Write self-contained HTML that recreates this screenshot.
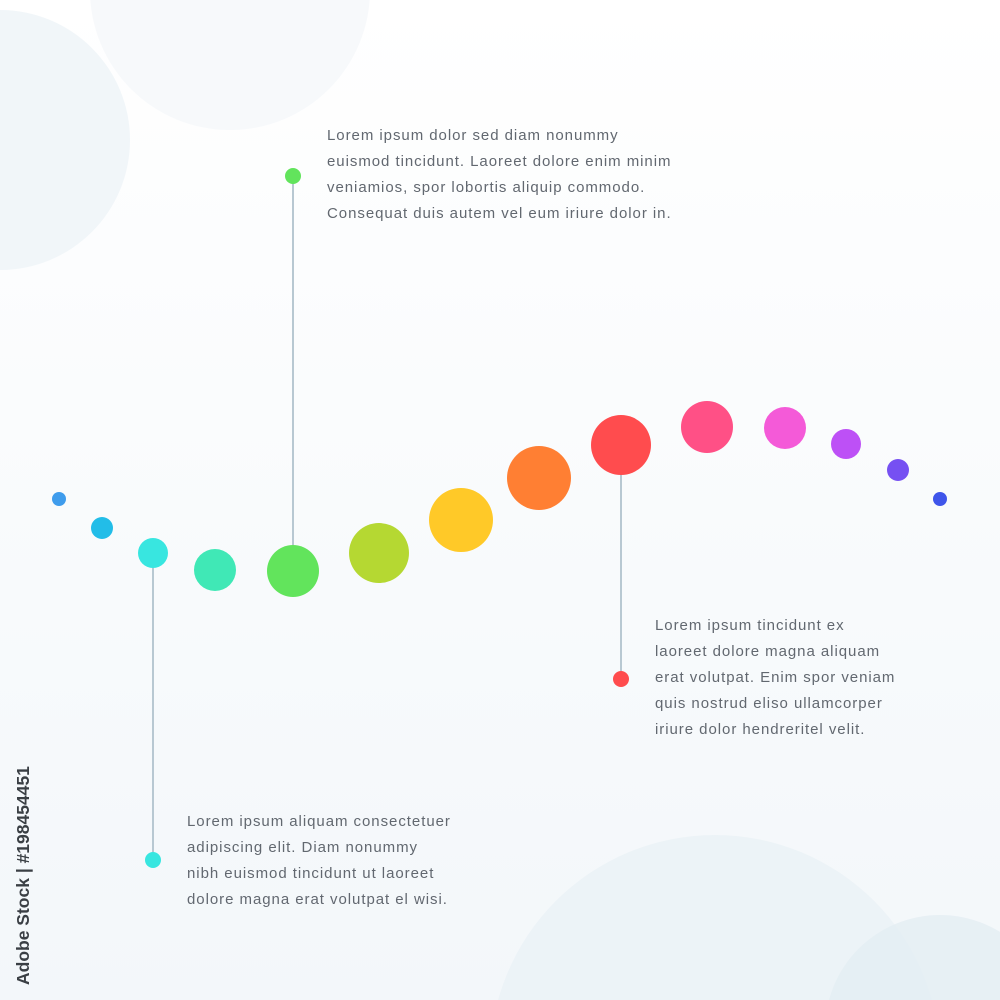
<!DOCTYPE html>
<html><head><meta charset="utf-8">
<style>
html,body{margin:0;padding:0;width:1000px;height:1000px;overflow:hidden;background:#fff}
svg{display:block;overflow:hidden}
.t{font-family:"Liberation Sans",sans-serif;font-size:15px;fill:#626870;letter-spacing:0.95px}
</style></head>
<body>
<svg id="chart" width="1000" height="1000" viewBox="0 0 1000 1000">
<defs>
<linearGradient id="bg" x1="0" y1="0" x2="0" y2="1">
<stop offset="0" stop-color="#ffffff"/><stop offset="1" stop-color="#f3f7fa"/>
</linearGradient>
<clipPath id="frame"><rect width="1000" height="1000"/></clipPath>
</defs>
<g clip-path="url(#frame)">
<rect width="1000" height="1000" fill="url(#bg)"/>
<circle cx="0" cy="140" r="130" fill="#eef4f8" opacity="0.8"/>
<circle cx="230" cy="-10" r="140" fill="#f3f7fa" opacity="0.7"/>
<circle cx="715" cy="1060" r="225" fill="#ebf2f6" opacity="0.9"/>
<circle cx="940" cy="1030" r="115" fill="#e4eef3" opacity="0.8"/>
</g>
<g id="leaders"></g>
<g id="dots"></g>
<g>
<text class="t" x="327" y="140">Lorem ipsum dolor sed diam nonummy</text>
<text class="t" x="327" y="166">euismod tincidunt. Laoreet dolore enim minim</text>
<text class="t" x="327" y="192">veniamios, spor lobortis aliquip commodo.</text>
<text class="t" x="327" y="218">Consequat duis autem vel eum iriure dolor in.</text>
</g>
<g>
<text class="t" x="655" y="630">Lorem ipsum tincidunt ex</text>
<text class="t" x="655" y="656">laoreet dolore magna aliquam</text>
<text class="t" x="655" y="682">erat volutpat. Enim spor veniam</text>
<text class="t" x="655" y="708">quis nostrud eliso ullamcorper</text>
<text class="t" x="655" y="734">iriure dolor hendreritel velit.</text>
</g>
<g>
<text class="t" x="187" y="826">Lorem ipsum aliquam consectetuer</text>
<text class="t" x="187" y="852">adipiscing elit. Diam nonummy</text>
<text class="t" x="187" y="878">nibh euismod tincidunt ut laoreet</text>
<text class="t" x="187" y="904">dolore magna erat volutpat el wisi.</text>
</g>
<text x="0" y="0" transform="translate(29,985) rotate(-90)" font-family="Liberation Sans,sans-serif" font-size="17.5" font-weight="bold" fill="#3a3f44">Adobe Stock | #198454451</text>
</svg>
<script>
const positions = [5.9,10.2,15.3,21.5,29.3,37.9,46.1,53.9,62.1,70.7,78.5,84.6,89.8,94.0];
const heights = [50.1,47.2,44.7,43.0,42.9,44.7,48.0,52.2,55.5,57.3,57.2,55.6,53.0,50.1];
const sizes = [7,11,15,21,26,30,32,32,30,26,21,15,11,7];
const colors = ["#3f9cec","#22bde8","#38e6e0","#40e8b6","#62e45c","#b5d832","#ffc928","#ff7f33","#ff4c4e","#ff5086","#f45ad8","#bd50f6","#7650f2","#3f55ea"];
const leaderIdx = [4,2,8];
const leaderEnd = [82.4,14.0,32.1];
const sx = v => v*10;
const sy = v => 1000 - v*10;
const NS="http://www.w3.org/2000/svg";
const dg=document.getElementById('dots'), lg=document.getElementById('leaders');
leaderIdx.forEach((idx,k)=>{
  const x=sx(positions[idx]);
  const l=document.createElementNS(NS,'line');
  l.setAttribute('x1',x);l.setAttribute('x2',x);
  l.setAttribute('y1',sy(heights[idx]));l.setAttribute('y2',sy(leaderEnd[k]));
  l.setAttribute('stroke','#b8c8d2');l.setAttribute('stroke-width','2');
  
  
  lg.appendChild(l);
  const c=document.createElementNS(NS,'circle');
  c.setAttribute('cx',x);c.setAttribute('cy',sy(leaderEnd[k]));c.setAttribute('r',8);
  c.setAttribute('fill',colors[idx]);
  
  
  lg.appendChild(c);
});
positions.forEach((p,i)=>{
  const c=document.createElementNS(NS,'circle');
  c.setAttribute('cx',sx(p));c.setAttribute('cy',sy(heights[i]));c.setAttribute('r',sizes[i]);
  c.setAttribute('fill',colors[i]);
  
  
  dg.appendChild(c);
});
</script>
</body></html>
